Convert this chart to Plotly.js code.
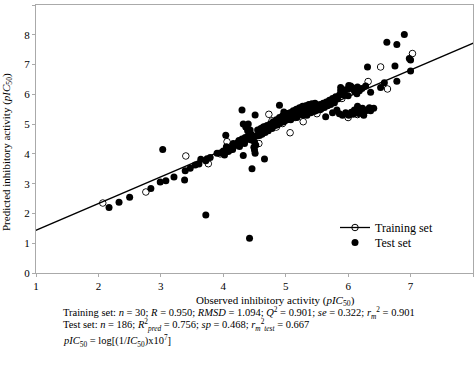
<!DOCTYPE html>
<html>
<head>
<meta charset="utf-8">
<script src="https://cdn.plot.ly/plotly-3.0.1.min.js"></script>
<style>html,body{margin:0;padding:0;background:#fff;}#chart{width:474px;height:377px;}</style>
</head>
<body>
<div id="chart"></div>
<script>
// Training set (open circles)
const trainX = [2.07, 2.76, 3.40, 3.76, 3.95, 4.06, 4.22, 4.57, 4.45, 4.66, 4.73, 4.78, 4.85, 4.95, 5.07, 5.15, 5.28, 5.40, 5.50, 5.60, 5.75, 5.90, 6.00, 6.15, 6.25, 6.32, 6.52, 6.63, 7.03, 4.10];
const trainY = [2.35, 2.72, 3.93, 3.67, 4.00, 4.41, 4.32, 4.35, 4.55, 4.91, 5.33, 5.11, 4.90, 5.02, 4.71, 5.22, 5.08, 5.47, 5.35, 5.62, 5.76, 5.86, 5.22, 5.32, 5.42, 6.43, 6.92, 6.18, 7.37, 4.18];

// Test set (filled circles)
const testX = [
 2.17,2.33,2.50,2.84,2.99,3.08,3.21,3.03,3.38,3.39,3.47,3.55,3.61,3.64,3.72,3.74,3.79,3.72,3.90,3.95,4.02,4.05,4.04,4.11,4.15,4.42,
 4.08,4.13,4.18,4.21,4.23,4.25,4.28,4.32,4.30,4.33,4.35,4.38,4.46,4.50,4.51,4.49,4.52,4.50,4.66,4.40,4.42,4.45,4.47,
 4.32,4.39,4.43,4.30,4.51,4.90,4.97,5.02,4.36,4.40,
 4.53,4.55,4.58,4.60,4.62,4.64,4.67,4.70,4.72,4.75,4.78,4.80,4.83,4.85,4.87,4.90,4.92,4.95,4.97,5.00,5.02,5.05,5.07,5.10,5.12,5.14,5.17,5.20,5.22,5.25,5.27,5.30,5.32,5.35,5.37,5.40,5.42,5.45,5.47,5.50,5.52,5.55,5.57,5.60,5.62,5.65,5.67,5.70,5.72,5.75,5.78,5.80,5.83,5.86,
 5.05,5.10,5.15,5.20,5.25,5.30,5.35,5.28,5.18,5.08,4.98,4.88,5.40,5.45,5.55,
 5.88,5.89,5.92,5.96,6.01,6.04,6.07,6.10,6.14,6.00,5.94,5.88,6.01,
 5.34,5.48,5.64,5.75,5.82,5.91,5.86,6.01,6.05,6.10,6.15,6.12,6.17,6.20,6.23,6.25,6.28,6.31,6.34,6.36,6.41,6.20,6.08,5.96,
 6.90,6.62,6.78,6.98,7.00,6.31,6.75,7.00,6.58,6.78,6.52,6.36,6.28,6.18,6.22,6.15,
 4.16,4.26,4.34,4.00,4.45
];
const testY = [
 2.20,2.38,2.54,2.84,3.06,3.10,3.22,4.15,3.12,3.43,3.52,3.63,3.66,3.82,3.77,3.84,3.88,1.95,4.02,4.03,3.96,4.24,4.63,4.13,4.15,1.17,
 4.08,4.22,4.28,4.30,4.37,4.45,4.40,3.95,4.50,4.45,4.55,4.48,3.50,4.13,4.02,4.22,4.30,4.40,3.83,4.60,4.55,4.65,4.58,
 5.00,4.78,4.80,5.47,5.31,5.63,5.41,5.36,4.90,5.00,
 4.60,4.80,4.62,4.85,4.66,4.90,4.72,4.95,4.78,5.00,4.85,5.08,4.95,5.15,4.98,5.22,5.05,5.28,5.08,5.30,5.15,5.18,5.38,5.25,5.45,5.30,5.50,5.35,5.55,5.40,5.60,5.45,5.62,5.48,5.66,5.52,5.68,5.55,5.70,5.60,5.48,5.66,5.52,5.70,5.56,5.74,5.62,5.80,5.66,5.86,5.72,5.92,5.84,5.98,
 5.35,5.40,5.45,5.50,5.55,5.58,5.62,5.30,5.22,5.15,5.20,5.08,5.38,5.42,5.48,
 6.12,6.00,6.06,6.15,6.19,6.28,6.22,6.11,6.02,5.95,5.98,6.23,6.30,
 5.30,5.45,5.25,5.38,5.47,5.30,5.35,5.30,5.40,5.47,5.60,5.40,5.36,5.50,5.53,5.30,5.45,5.47,5.55,5.45,5.53,5.42,5.33,5.38,
 8.01,7.75,7.67,7.20,7.15,6.92,6.95,6.78,6.39,6.44,6.23,6.07,6.28,6.12,6.20,6.25,
 4.35,4.25,4.35,4.10,4.47
];

// Regression line (fit of training set)
const slope = 0.897;
const intercept = 0.54;
const xRange = [1, 8];
const yRange = [0, 9];
const lineX = [xRange[0] - 1, xRange[1] + 1];
const lineY = lineX.map(v => slope * v + intercept);

const serif = 'Liberation Serif, Times New Roman, serif';
const W = 474, H = 377;
const M = {l: 36, r: 1, t: 5, b: 104};
const pw = W - M.l - M.r, ph = H - M.t - M.b;
const px = x => (x - M.l) / pw;
const py = y => (H - M.b - y) / ph;

const traces = [
  {x: trainX, y: trainY, type: 'scatter', mode: 'markers', showlegend: false,
   marker: {symbol: 'circle-open', size: 6.5, color: '#000', line: {width: 1}}},
  {x: trainX, y: trainY, type: 'scatter', mode: 'markers', showlegend: false, hoverinfo: 'skip',
   marker: {symbol: 'circle', size: 5, color: '#fff'}},
  {x: testX, y: testY, type: 'scatter', mode: 'markers', name: 'Test set', legend: 'legend2',
   marker: {symbol: 'circle', size: 7, color: '#000'}},
  {x: lineX, y: lineY, type: 'scatter', mode: 'lines+markers', name: 'Training set', legend: 'legend',
   line: {color: '#000', width: 1.3}, marker: {symbol: 'circle-open', size: 6.5, color: '#000', line: {width: 1}}}
];

const axisCommon = {
  showline: true, linecolor: '#aaa', linewidth: 1, mirror: true,
  ticks: 'outside', ticklen: 3, tickcolor: '#aaa',
  showgrid: false, zeroline: false, dtick: 1,
  tickfont: {family: serif, size: 11, color: '#000'}
};

const layout = {
  width: W, height: H,
  margin: M,
  paper_bgcolor: '#fff', plot_bgcolor: '#fff',
  xaxis: Object.assign({range: xRange, tick0: 1}, axisCommon),
  yaxis: Object.assign({range: yRange, tick0: 0}, axisCommon),
  legend: {x: px(335), y: py(213), xanchor: 'left', yanchor: 'top', bgcolor: 'rgba(0,0,0,0)',
           font: {family: serif, size: 12, color: '#000'}},
  legend2: {x: px(335), y: py(228), xanchor: 'left', yanchor: 'top', bgcolor: 'rgba(0,0,0,0)',
           font: {family: serif, size: 12, color: '#000'}},
  annotations: [
    {xref: 'paper', yref: 'paper', x: px(275), y: py(301), xanchor: 'center', yanchor: 'middle', showarrow: false,
     text: 'Observed inhibitory activity (<i>pIC</i><sub>50</sub>)', font: {family: serif, size: 11, color: '#000'}},
    {xref: 'paper', yref: 'paper', x: px(7), y: py(152), xanchor: 'center', yanchor: 'middle', showarrow: false, textangle: -90,
     text: 'Predicted inhibitory activity (<i>pIC</i><sub>50</sub>)', font: {family: serif, size: 11, color: '#000'}},
    {xref: 'paper', yref: 'paper', x: px(61), y: py(313), xanchor: 'left', yanchor: 'middle', showarrow: false,
     text: 'Training set: <i>n</i> = 30; <i>R</i> = 0.950; <i>RMSD</i> = 1.094; <i>Q</i><sup>2</sup> = 0.901; <i>se</i> = 0.322; <i>r</i><sub><i>m</i></sub><sup>2</sup> = 0.901',
     font: {family: serif, size: 10.5, color: '#000'}},
    {xref: 'paper', yref: 'paper', x: px(61), y: py(325), xanchor: 'left', yanchor: 'middle', showarrow: false,
     text: 'Test set: <i>n</i> = 186; <i>R</i><sup>2</sup><sub><i>pred</i></sub> = 0.756; <i>sp</i> = 0.468; <i>r</i><sub><i>m</i></sub><sup>2</sup><sub><i>test</i></sub> = 0.667',
     font: {family: serif, size: 10.5, color: '#000'}},
    {xref: 'paper', yref: 'paper', x: px(61), y: py(341), xanchor: 'left', yanchor: 'middle', showarrow: false,
     text: '<i>pIC</i><sub>50</sub> = log[(1/<i>IC</i><sub>50</sub>)x10<sup>7</sup>]',
     font: {family: serif, size: 10.5, color: '#000'}}
  ]
};

Plotly.newPlot('chart', traces, layout, {staticPlot: true, displayModeBar: false});
</script>
</body>
</html>
